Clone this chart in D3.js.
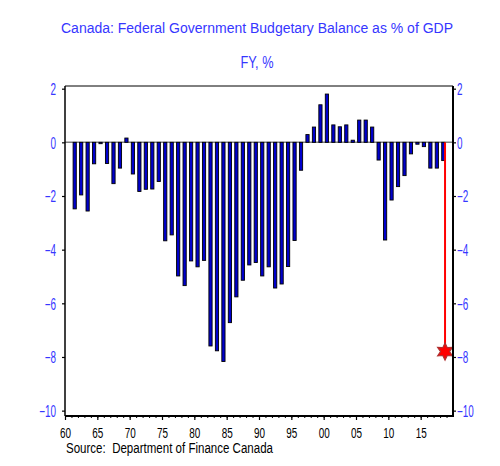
<!DOCTYPE html>
<html>
<head>
<meta charset="utf-8">
<script src="https://cdn.jsdelivr.net/npm/d3@7"></script>
<style>
  body { margin: 0; background: #fff; }
  text { font-family: "Liberation Sans", Arial, sans-serif; }
</style>
</head>
<body>
<svg id="chart"></svg>
<script>
// Datos: saldo presupuestario federal, % del PIB (año fiscal)
const fiscalYears = d3.range(1961, 2019);
const balance = [
  -2.48, -1.96, -2.56, -0.80, -0.05, -0.79, -1.54, -0.96, 0.16, -1.18,
  -1.83, -1.75, -1.74, -1.46, -3.67, -3.45, -4.98, -5.34, -4.42, -4.64,
  -4.40, -7.59, -7.77, -8.17, -6.72, -5.76, -5.14, -4.57, -4.48, -4.98,
  -4.64, -5.43, -5.28, -4.63, -3.66, -1.04, 0.29, 0.57, 1.40, 1.80,
  0.65, 0.58, 0.65, 0.08, 0.83, 0.83, 0.57, -0.66, -3.64, -2.15,
  -1.65, -1.24, -0.43, -0.07, -0.16, -0.96, -0.96, -0.68
];
const projYears = [2019];
const projValues = [-7.8];
const yTicks = [2, 0, -2, -4, -6, -8, -10];
const xTicks = [1960, 1965, 1970, 1975, 1980, 1985, 1990, 1995, 2000, 2005, 2010, 2015];

const width = 500;
const height = 466;
const blue = "#3636ff";

const svg = d3.select("#chart")
    .attr("width", width)
    .attr("height", height);

// Escalas
const x = d3.scaleLinear().domain([1960, 2020]).range([65, 453]);
const y = d3.scaleLinear().domain([-10.2, 2.1]).range([416, 86]);

// Títulos
svg.append("text")
    .attr("x", 257).attr("y", 33)
    .attr("text-anchor", "middle")
    .attr("font-size", 15.5)
    .attr("fill", blue)
    .attr("textLength", 392)
    .attr("lengthAdjust", "spacingAndGlyphs")
    .text("Canada: Federal Government Budgetary Balance as % of GDP");

svg.append("text")
    .attr("x", 257).attr("y", 68)
    .attr("text-anchor", "middle")
    .attr("font-size", 16)
    .attr("fill", blue)
    .attr("textLength", 33)
    .attr("lengthAdjust", "spacingAndGlyphs")
    .text("FY, %");

// Línea de cero
svg.append("line")
    .attr("x1", x.range()[0]).attr("x2", x.range()[1])
    .attr("y1", y(0)).attr("y2", y(0))
    .attr("stroke", "#808080")
    .attr("stroke-width", 1.5);

// Barras
const data = fiscalYears.map((yr, i) => ({year: yr, value: balance[i]}));
svg.selectAll(".bar")
    .data(data)
    .enter()
    .append("rect")
    .attr("class", "bar")
    .attr("x", d => x(d.year + 0.5) - 1.6)
    .attr("width", 3.2)
    .attr("y", d => y(Math.max(0, d.value)))
    .attr("height", d => Math.abs(y(d.value) - y(0)))
    .attr("fill", "#0000cc")
    .attr("stroke", "#000")
    .attr("stroke-width", 0.9);

// Proyección
const proj = projYears.map((yr, i) => ({year: yr, value: projValues[i]}));
svg.selectAll(".proj")
    .data(proj)
    .enter()
    .append("line")
    .attr("class", "proj")
    .attr("x1", d => x(d.year) - 1.5).attr("x2", d => x(d.year) - 1.5)
    .attr("y1", y(0)).attr("y2", d => y(d.value))
    .attr("stroke", "#ff0000")
    .attr("stroke-width", 2);

const starPath = d3.lineRadial()
    .angle((d, i) => i * Math.PI / 6)
    .radius((d, i) => i % 2 ? 4.5 : 8.5)
    .curve(d3.curveLinearClosed);

svg.selectAll(".star")
    .data(proj)
    .enter()
    .append("path")
    .attr("class", "star")
    .attr("transform", d => `translate(${x(d.year) - 1.5},${y(d.value)})`)
    .attr("d", starPath(d3.range(12)))
    .attr("fill", "#ff0000")
    .attr("stroke", "#b03030")
    .attr("stroke-width", 1.2);

// Ejes
const yLeft = d3.axisLeft(y).tickValues(yTicks).tickSize(3).tickFormat(d3.format("d"));
const yRight = d3.axisRight(y).tickValues(yTicks).tickSize(3).tickFormat(d3.format("d"));

const gl = svg.append("g")
    .attr("transform", `translate(${x.range()[0]},0)`)
    .call(yLeft);
const gr = svg.append("g")
    .attr("transform", `translate(${x.range()[1]},0)`)
    .call(yRight);

[gl, gr].forEach(g => {
  g.select(".domain").remove();
  g.selectAll(".tick line").attr("stroke", "#000").attr("stroke-width", 1.2);
  g.selectAll(".tick text")
      .attr("font-size", 16)
      .attr("fill", blue)
      .attr("font-family", "Liberation Sans, Arial, sans-serif")
      .attr("dy", "0.36em");
});
gl.selectAll(".tick text").attr("x", 0).attr("transform", "translate(-9,0) scale(0.62,1)");
gr.selectAll(".tick text").attr("x", 0).attr("transform", "translate(4,0) scale(0.62,1)");

// Eje X: marcas menores cada año
const xMinor = d3.axisBottom(x).tickValues(d3.range(1960, 2020)).tickSize(2).tickFormat("");
const gxm = svg.append("g")
    .attr("transform", `translate(0,${y.range()[0]})`)
    .call(xMinor);
gxm.select(".domain").remove();
gxm.selectAll(".tick line").attr("stroke", "#000");

const xAxis = d3.axisBottom(x).tickValues(xTicks).tickSize(4)
    .tickFormat(d => String(d).slice(2));
const gx = svg.append("g")
    .attr("transform", `translate(0,${y.range()[0]})`)
    .call(xAxis);
gx.select(".domain").remove();
gx.selectAll(".tick line").attr("stroke", "#000").attr("stroke-width", 1.2);
gx.selectAll(".tick text")
    .attr("font-size", 15.5)
    .attr("fill", "#000")
    .attr("font-family", "Liberation Sans, Arial, sans-serif")
    .attr("y", 0).attr("dy", 0)
    .attr("transform", "translate(0,21.5) scale(0.64,1)");

// Marco
const [x0, x1] = x.range();
const [yb, yt] = y.range();
svg.append("line").attr("x1", x0).attr("x2", x1).attr("y1", yt).attr("y2", yt)
    .attr("stroke", "#000").attr("stroke-width", 1);
svg.append("line").attr("x1", x0).attr("x2", x0).attr("y1", yt).attr("y2", yb)
    .attr("stroke", "#000").attr("stroke-width", 1.5);
svg.append("line").attr("x1", x1).attr("x2", x1).attr("y1", yt).attr("y2", yb + 1)
    .attr("stroke", "#000").attr("stroke-width", 2);
svg.append("line").attr("x1", x0).attr("x2", x1).attr("y1", yb).attr("y2", yb)
    .attr("stroke", "#000").attr("stroke-width", 2);

// Fuente
svg.append("text")
    .attr("x", 66).attr("y", 452.5)
    .attr("font-size", 14)
    .attr("fill", "#000")
    .attr("textLength", 207)
    .attr("lengthAdjust", "spacingAndGlyphs")
    .attr("xml:space", "preserve")
    .text("Source:  Department of Finance Canada");
</script>
</body>
</html>
